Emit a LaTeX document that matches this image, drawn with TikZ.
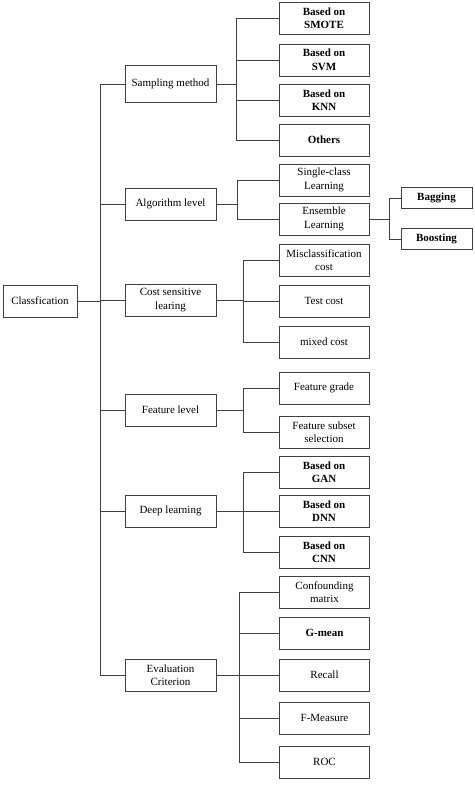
\documentclass[tikz,border=0pt]{standalone}
\usepackage{fontspec}
\setmainfont{Liberation Serif}
\usepackage{xcolor}
\usepackage{tikz}

\tikzset{
    box/.style={draw=black!75, line width=0.8pt, align=center, inner sep=1pt,
        minimum width=90pt, minimum height=32pt,
        font=\fontsize{11}{13.5}\selectfont},
    topbox/.style={box, minimum width=91pt},
    subbox/.style={box, minimum width=71pt, minimum height=21pt},
    link/.style={draw=black!75, line width=0.8pt}
}

\begin{document}
\begin{tikzpicture}[x=1pt, y=-1pt]
        \useasboundingbox (0,0) rectangle (474,798);

        % Root
        \node[box, minimum width=74pt] (cls) at (40,301) {Classfication};
        \coordinate (trunk) at (100,301);

        % First level
        \node[topbox, minimum height=37pt] (samp) at (170.5,84) {Sampling method};
        \node[topbox] (algo) at (170.5,204) {Algorithm level};
        \node[topbox] (cost) at (170.5,300) {Cost sensitive\\learing};
        \node[topbox] (feat) at (170.5,410) {Feature level};
        \node[topbox] (deep) at (170.5,511) {Deep learning};
        \node[topbox] (eval) at (170.5,675) {Evaluation\\Criterion};

        % Sampling method
        \coordinate (sampbr) at (236,84);
        \node[box] (smote) at (324,18) {\bfseries Based on\\\bfseries SMOTE};
        \node[box] (svm) at (324,60) {\bfseries Based on\\\bfseries SVM};
        \node[box] (knn) at (324,100) {\bfseries Based on\\\bfseries KNN};
        \node[box] (other) at (324,140) {\bfseries Others};

        % Algorithm level
        \coordinate (algobr) at (237,204);
        \node[box] (single) at (324,180) {Single-class\\Learning};
        \node[box] (ens) at (324,219) {Ensemble\\Learning};
        \coordinate (ensbr) at (389,219);
        \node[subbox] (bag) at (436.5,198) {\bfseries Bagging};
        \node[subbox] (boost) at (436.5,239) {\bfseries Boosting};

        % Cost sensitive learing
        \coordinate (costbr) at (243,300);
        \node[box] (miscost) at (324,260) {Misclassification\\cost};
        \node[box] (testcost) at (324,301) {Test cost};
        \node[box] (mixcost) at (324,342) {mixed cost};

        % Feature level
        \coordinate (featbr) at (243,410);
        \node[box] (grade) at (324,388) {Feature grade};
        \node[box] (subset) at (324,432) {Feature subset\\selection};

        % Deep learning
        \coordinate (deepbr) at (243,511);
        \node[box] (gan) at (324,472) {\bfseries Based on\\\bfseries GAN};
        \node[box] (dnn) at (324,511) {\bfseries Based on\\\bfseries DNN};
        \node[box] (cnn) at (324,552) {\bfseries Based on\\\bfseries CNN};

        % Evaluation Criterion
        \coordinate (evalbr) at (239,675);
        \node[box] (conf) at (324.5,592) {Confounding\\matrix};
        \node[box] (gmean) at (324.5,633) {\bfseries G-mean};
        \node[box] (recall) at (324.5,675) {Recall};
        \node[box] (fmeas) at (324.5,718) {F-Measure};
        \node[box] (roc) at (324.5,762) {ROC};

        % Connectors
        \draw[link] (cls) -- (trunk);
        \foreach \n in {samp,algo,cost,feat,deep,eval}
            \draw[link] (\n.west) -| (trunk);
        \draw[link] (samp) -- (sampbr);
        \foreach \n in {smote,svm,knn,other}
            \draw[link] (\n.west) -| (sampbr);
        \draw[link] (algo) -- (algobr);
        \foreach \n in {single,ens}
            \draw[link] (\n.west) -| (algobr);
        \draw[link] (ens) -- (ensbr);
        \foreach \n in {bag,boost}
            \draw[link] (\n.west) -| (ensbr);
        \draw[link] (cost) -- (costbr);
        \foreach \n in {miscost,testcost,mixcost}
            \draw[link] (\n.west) -| (costbr);
        \draw[link] (feat) -- (featbr);
        \foreach \n in {grade,subset}
            \draw[link] (\n.west) -| (featbr);
        \draw[link] (deep) -- (deepbr);
        \foreach \n in {gan,dnn,cnn}
            \draw[link] (\n.west) -| (deepbr);
        \draw[link] (eval) -- (evalbr);
        \foreach \n in {conf,gmean,recall,fmeas,roc}
            \draw[link] (\n.west) -| (evalbr);
    \end{tikzpicture}
\end{document}
